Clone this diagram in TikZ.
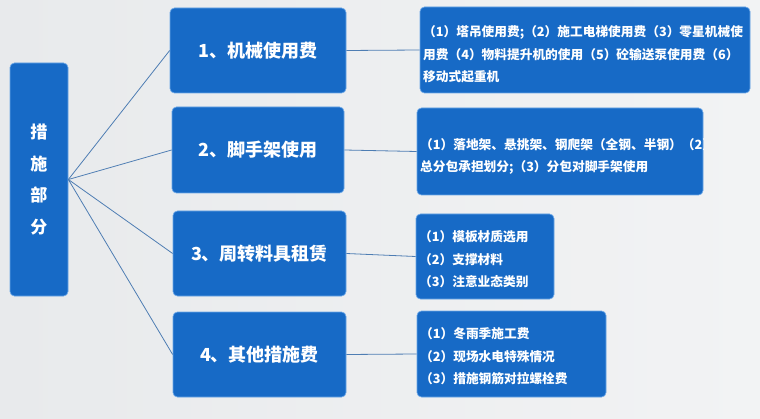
\documentclass[tikz,border=0pt]{standalone}
\usepackage{fontspec}
\newfontfamily\cjk{Noto Sans CJK SC}
\definecolor{boxblue}{HTML}{176AC6}
\definecolor{boxedge}{HTML}{6AA6E6}
\definecolor{linkblue}{HTML}{4E7DB3}
\definecolor{bgleft}{HTML}{E8EAEC}
\definecolor{bgright}{HTML}{F2F3F4}
\tikzset{
  bluebox/.style={draw=boxedge, line width=0.7pt, fill=boxblue, rounded corners=4.5pt, inner sep=0pt},
  maintext/.style={text=white, font=\cjk\bfseries\fontsize{18}{22}\selectfont},
  subtext/.style={text=white, anchor=base west, align=left, inner sep=0pt, font=\cjk\bfseries\fontsize{12.7}{22.5}\selectfont},
  link/.style={draw=linkblue, line width=0.8pt}
}
\begin{document}
\begin{tikzpicture}[x=1pt,y=1pt]
\shade[left color=bgleft, right color=bgright] (0,0) rectangle (760,418);
\useasboundingbox (0,0) rectangle (760,418);
% left box
\node[bluebox, maintext, minimum width=58pt, minimum height=233pt, align=center,
  font=\cjk\bfseries\fontsize{17}{31.5}\selectfont] (L) at (39,238.5) {措\\施\\部\\分};
% main boxes
\node[bluebox, maintext, minimum width=176pt, minimum height=85pt] (b1) at (258,367.5) {1、机械使用费};
\node[bluebox, maintext, minimum width=172pt, minimum height=86pt] (b2) at (258,268) {2、脚手架使用};
\node[bluebox, maintext, minimum width=173pt, minimum height=85pt] (b3) at (259.5,164.5) {3、周转料具租赁};
\node[bluebox, maintext, minimum width=173pt, minimum height=85pt] (b4) at (259.5,63.5) {4、其他措施费};
% right boxes
\node[bluebox, minimum width=330pt, minimum height=86pt] (r1) at (585,368) {};
\node[bluebox, minimum width=286pt, minimum height=87pt] (r2) at (560,266.5) {};
\node[bluebox, minimum width=138pt, minimum height=85pt] (r3) at (485,161.5) {};
\node[bluebox, minimum width=189pt, minimum height=86pt] (r4) at (511.5,64) {};
% texts (anchor = baseline of last line)
\node[subtext] (t1) at (423,336.2) {（1）塔吊使用费;（2）施工电梯使用费（3）零星机械使\\用费（4）物料提升机的使用（5）砼输送泵使用费（6）\\移动式起重机};
\begin{scope}
\clip[rounded corners=4.5pt] (r2.south west) rectangle (r2.north east);
\node[subtext] (t2) at (420,246.2) {（1）落地架、悬挑架、钢爬架（全钢、半钢）（2）\\总分包承担划分;（3）分包对脚手架使用};
\end{scope}
\node[subtext] (t3) at (419,131.2) {（1）模板材质选用\\（2）支撑材料\\（3）注意业态类别};
\node[subtext] (t4) at (420,34.2) {（1）冬雨季施工费\\（2）现场水电特殊情况\\（3）措施钢筋对拉螺栓费};
% connectors
\foreach \b in {b1,b2,b3,b4} \draw[link] (L.east) -- (\b.west);
\draw[link] (b1.east) -- (r1.west);
\draw[link] (b2.east) -- (r2.west);
\draw[link] (b3.east) -- (r3.west);
\draw[link] (b4.east) -- (r4.west);
\end{tikzpicture}
\end{document}
